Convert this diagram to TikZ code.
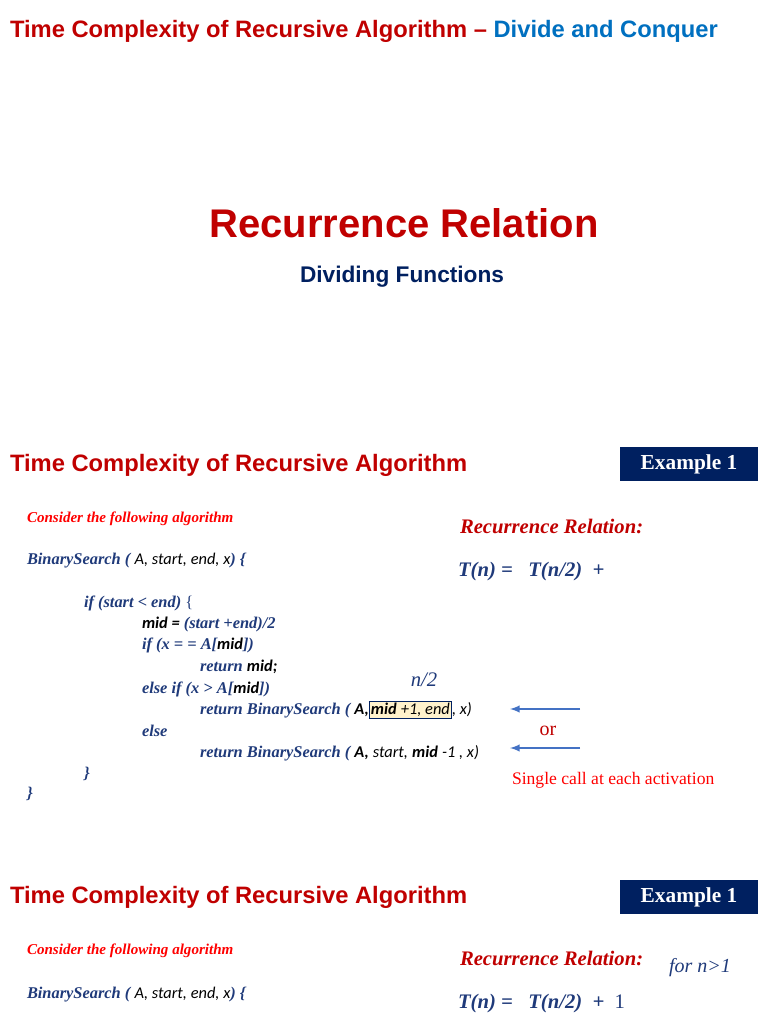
\documentclass[tikz,border=0pt]{standalone}
\usepackage{fontspec}
\setmainfont{Liberation Serif}
\setsansfont{Liberation Sans}
\newfontfamily\calfont{Carlito}
\definecolor{dred}{HTML}{C00000}
\definecolor{navy}{HTML}{002060}
\definecolor{codeblue}{HTML}{1F3A7A}
\definecolor{lblue}{HTML}{0070C0}
\definecolor{arrblue}{HTML}{4472C4}
\definecolor{hl}{HTML}{FFF2CC}
\newcommand{\kw}[1]{{\rmfamily\bfseries\itshape\color{codeblue}#1}}
\newcommand{\ar}[1]{{\calfont\itshape\color{black}#1}}
\newcommand{\bmid}[1]{{\calfont\bfseries\itshape\color{black}#1}}
\begin{document}
\begin{tikzpicture}[x=0.75pt,y=-0.75pt,
  every node/.style={inner sep=0pt,outer sep=0pt},
  head/.style={anchor=west,font=\sffamily\bfseries\fontsize{17.8}{20}\selectfont,text=dred},
  code/.style={anchor=west,font=\fontsize{12.3}{14}\selectfont},
  exbox/.style={fill=navy,text=white,font=\rmfamily\bfseries\fontsize{16}{18}\selectfont,minimum width=103.5pt,minimum height=25pt},
  rr/.style={anchor=west,font=\rmfamily\bfseries\itshape\fontsize{15.5}{17}\selectfont,text=dred},
  eq/.style={anchor=west,font=\rmfamily\bfseries\itshape\fontsize{15.5}{17}\selectfont,text=codeblue},
  cons/.style={anchor=west,font=\rmfamily\bfseries\itshape\fontsize{11.3}{13}\selectfont,text=red},
  arr/.style={draw=arrblue,line width=1.5pt,-latex}]
\useasboundingbox (0,0) rectangle (768,1024);
\fill[white] (0,0) rectangle (768,1024);
% slide 1
\node[head] (t1) at (10,31) {Time Complexity of Recursive Algorithm -- \textcolor{lblue}{Divide and Conquer}};
\node[font=\sffamily\bfseries\fontsize{30}{34}\selectfont,text=dred] (rr0) at (404,223) {Recurrence Relation};
\node[font=\sffamily\bfseries\fontsize{17}{20}\selectfont,text=navy] (df) at (402,277) {Dividing Functions};
% slide 2
\node[head] (t2) at (10,465) {Time Complexity of Recursive Algorithm};
\node[exbox] (ex2) at (689,464) {Example 1};
\node[cons] (c2) at (27,519) {Consider the following algorithm};
\node[rr] (r2) at (460,526) {Recurrence Relation:};
\node[eq] (e2) at (458,572) {T(n) =~~ T(n/2)~ +};
\node[code] (l1) at (27,561) {\kw{BinarySearch} \kw{(} \ar{A, start, end, x}\kw{) \{}};
\node[code] (l2) at (84,603) {\kw{if (start < end)} {\rmfamily\color{codeblue}\{}};
\node[code] (l3) at (142,624) {\bmid{mid =} \kw{(start +end)/2}};
\node[code] (l4) at (142,645) {\kw{if (x = = A[}\bmid{mid}\kw{])}};
\node[code] (l5) at (200,667) {\kw{return} \bmid{mid;}};
\node[code] (l6) at (142,689) {\kw{else if (x > A[}\bmid{mid}\kw{])}};
\node[code] (l7) at (200,710) {\kw{return BinarySearch (} \bmid{A,}{\setlength{\fboxsep}{1pt}\setlength{\fboxrule}{0.6pt}\fcolorbox{navy}{hl}{\bmid{mid} \ar{+1, end}}}\ar{, x)}};
\node[code] (l8) at (142,731) {\kw{else}};
\node[code] (l9) at (200,753) {\kw{return BinarySearch (} \bmid{A,} \ar{start,} \bmid{mid} \ar{-1 , x)}};
\node[code] (l10) at (84,774) {\kw{\}}};
\node[code] (l11) at (27,794) {\kw{\}}};
\node[font=\rmfamily\itshape\fontsize{15.5}{17}\selectfont,text=codeblue] (n2) at (424,680) {n/2};
\coordinate (a1s) at (580,709);
\coordinate (a1e) at (510,709);
\coordinate (a2s) at (580,748);
\coordinate (a2e) at (510,748);
\draw[arr] (a1s) -- (a1e);
\draw[arr] (a2s) -- (a2e);
\node[font=\rmfamily\fontsize{15}{17}\selectfont,text=dred] (or) at (548,731) {or};
\node[anchor=west,font=\rmfamily\fontsize{13.2}{15}\selectfont,text=red] (sc) at (512,780) {Single call at each activation};
% slide 3
\node[head] (t3) at (10,897) {Time Complexity of Recursive Algorithm};
\node[exbox] (ex3) at (689,897) {Example 1};
\node[cons] (c3) at (27,951) {Consider the following algorithm};
\node[rr] (r3) at (460,958) {Recurrence Relation:};
\node[anchor=west,font=\rmfamily\itshape\fontsize{15}{17}\selectfont,text=codeblue] (fn) at (669,968) {for n>1};
\node[eq] (e3) at (458,1004) {T(n) =~~ T(n/2)~ + ~\textup{\mdseries 1}};
\node[code] (m1) at (27,995) {\kw{BinarySearch} \kw{(} \ar{A, start, end, x}\kw{) \{}};
\end{tikzpicture}
\end{document}
